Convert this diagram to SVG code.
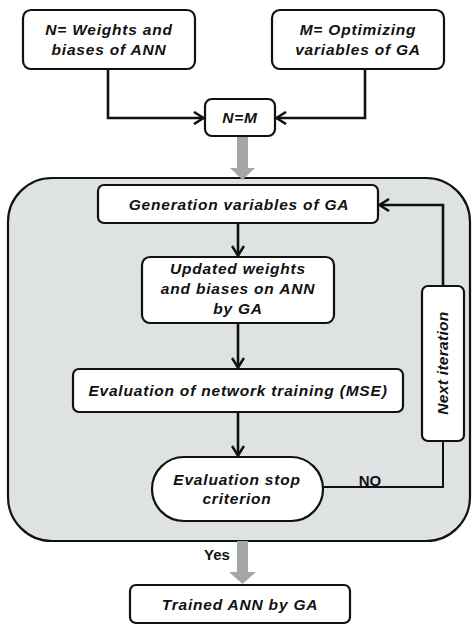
<svg xmlns="http://www.w3.org/2000/svg" width="474" height="631" viewBox="0 0 474 631">
<defs>
<style>
.box{fill:#fff;stroke:#111;stroke-width:2.2}
.t{font-family:"Liberation Sans",Arial,sans-serif;font-weight:bold;font-style:italic;font-size:15.5px;letter-spacing:0.8px;fill:#111;text-anchor:middle}
.l{font-family:"Liberation Sans",Arial,sans-serif;font-weight:bold;font-size:15px;fill:#111;text-anchor:middle}
.c{fill:none;stroke:#111;stroke-width:2.6}
.g{fill:#a3a7a7;stroke:none}
</style>
<marker id="ah" viewBox="0 0 12 14" refX="11" refY="7" markerWidth="12" markerHeight="14" markerUnits="userSpaceOnUse" orient="auto">
<polyline points="1,1 10.5,7 1,13" fill="none" stroke="#111" stroke-width="2.6"/>
</marker>
</defs>
<rect x="0" y="0" width="474" height="631" fill="#fff"/>
<g id="container"><rect x="8" y="178" width="462" height="363" rx="44" ry="44" fill="#dfe2e2" stroke="#111" stroke-width="2.2"/></g>
<g id="connectors">
<polyline class="c" points="108,69 108,118 204,118" marker-end="url(#ah)"/>
<polyline class="c" points="365,69 365,118 276,118" marker-end="url(#ah)"/>
<polygon class="g" points="237,136 248,136 248,168 255,168 242.5,180 230,168 237,168"/>
<line class="c" x1="238" y1="223" x2="238" y2="256" marker-end="url(#ah)"/>
<line class="c" x1="238" y1="323" x2="238" y2="368" marker-end="url(#ah)"/>
<line class="c" x1="238" y1="412" x2="238" y2="456" marker-end="url(#ah)"/>
<polyline fill="none" stroke="#111" stroke-width="2" points="323,487 443,487 443,442"/>
<polyline class="c" points="443,286 443,205 379,205" marker-end="url(#ah)"/>
<polygon class="g" points="237,541 248,541 248,572 256,572 242.5,584 229,572 237,572"/>
<text class="l" x="370" y="486">NO</text>
<text class="l" x="217" y="560">Yes</text>
</g>
<g id="n1"><rect class="box" x="23" y="10" width="172" height="59" rx="8"/>
<text class="t" x="109" y="35">N= Weights and</text><text class="t" x="109" y="55">biases of ANN</text></g>
<g id="m1"><rect class="box" x="272" y="10" width="172" height="59" rx="8"/>
<text class="t" x="358" y="35">M= Optimizing</text><text class="t" x="358" y="55">variables of GA</text></g>
<g id="nm"><rect class="box" x="205" y="99" width="70" height="37" rx="7"/>
<text class="t" x="240" y="123">N=M</text></g>
<g id="gen"><rect class="box" x="98" y="185" width="280" height="38" rx="6"/>
<text class="t" x="239" y="210">Generation variables of GA</text></g>
<g id="upd"><rect class="box" x="142" y="257" width="192" height="66" rx="8"/>
<text class="t" x="238" y="274">Updated weights</text><text class="t" x="238" y="294">and biases on ANN</text><text class="t" x="238" y="314">by GA</text></g>
<g id="eval"><rect class="box" x="73" y="369" width="330" height="43" rx="6"/>
<text class="t" x="238" y="396">Evaluation of network training (MSE)</text></g>
<g id="stop"><rect class="box" x="152" y="457" width="171" height="64" rx="32"/>
<text class="t" x="237" y="485">Evaluation stop</text><text class="t" x="237" y="504">criterion</text></g>
<g id="next"><rect class="box" x="422" y="286" width="42" height="155" rx="6"/>
<text class="t" style="letter-spacing:0.3px" transform="translate(448,363) rotate(-90)" x="0" y="0">Next iteration</text></g>
<g id="trained"><rect class="box" x="130" y="585" width="220" height="38" rx="6"/>
<text class="t" x="240" y="610">Trained ANN by GA</text></g>
</svg>
